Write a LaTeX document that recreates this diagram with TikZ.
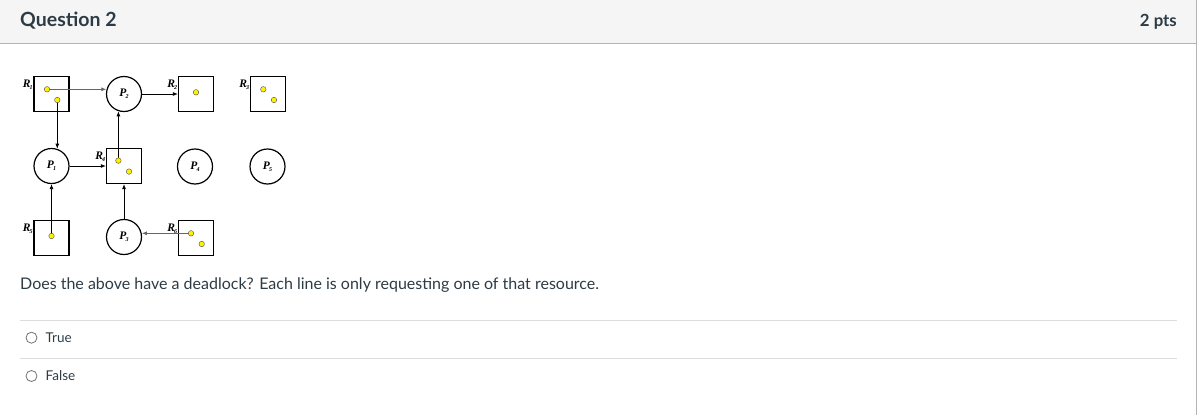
\documentclass[tikz,border=0pt]{standalone}
\usepackage{fontspec}
\setmainfont{Lato}
\newfontfamily\tmsfont{Liberation Serif}
\usetikzlibrary{arrows.meta,calc}
\definecolor{txt}{HTML}{2D3B45}
\definecolor{hdr}{HTML}{F5F5F5}
\definecolor{bord}{HTML}{B4B4B4}
\definecolor{sep}{HTML}{DDDDDD}
\definecolor{dotc}{HTML}{FFF200}
\newcommand{\lbl}[2]{{\tmsfont\bfseries\itshape\fontsize{11.5}{11.5}\selectfont #1\kern-0.8pt\raisebox{-2.2pt}{\fontsize{6}{6}\selectfont #2}}}
\begin{document}
\begin{tikzpicture}[x=1pt,y=-1pt,
  resbox/.style={draw=black,line width=1.3pt,minimum size=35pt,inner sep=0pt},
  proc/.style={circle,draw=black,line width=1.2pt,minimum size=35pt,inner sep=0pt},
  rdot/.style={circle,draw=black!70,line width=0.4pt,fill=dotc,minimum size=5.5pt,inner sep=0pt},
  rlbl/.style={anchor=north east,inner sep=0pt},
  edge/.style={draw=black,line width=0.8pt,-{Latex[length=5pt,width=4pt]}},
  gedge/.style={draw=black!60,line width=0.9pt,-{Latex[length=5pt,width=4pt]}},
  radio/.style={circle,draw=black!55,line width=0.8pt,minimum size=11pt,inner sep=0pt}
]
\useasboundingbox (0,0) rectangle (1198,415);
% header
\fill[hdr] (0,0) rectangle (1196.5,43.3);
\draw[bord,line width=1.2pt] (0,43.3) -- (1196.5,43.3);
\draw[bord,line width=1.2pt] (1196.8,0) -- (1196.8,415);
\node[anchor=base west,inner sep=0pt,text=txt,font=\bfseries\fontsize{19.5}{21}\selectfont] (q) at (20,26.5) {Question 2};
\node[anchor=base east,inner sep=0pt,text=txt,font=\bfseries\fontsize{16.8}{19}\selectfont] (pts) at (1177,26.5) {2 pts};

% resources
\node[resbox] (R1) at (51.5,94) {};
\node[resbox] (R2) at (196,94) {};
\node[resbox] (R3) at (268,94) {};
\node[resbox] (R4) at (124,166) {};
\node[resbox] (R5) at (51.5,238) {};
\node[resbox] (R6) at (196,238) {};
% processes
\node[proc] (P2) at (124,94) {\lbl{P}{2}};
\node[proc] (P1) at (51.5,166) {\lbl{P}{1}};
\node[proc] (P4) at (195,166.5) {\lbl{P}{4}};
\node[proc] (P5) at (267.5,166.5) {\lbl{P}{5}};
\node[proc] (P3) at (124,237) {\lbl{P}{3}};
% labels
\node[rlbl] (LR1) at ($(R1.north west)+(-0.5,4)$) {\lbl{R}{1}};
\node[rlbl] (LR2) at ($(R2.north west)+(-0.5,4)$) {\lbl{R}{2}};
\node[rlbl] (LR3) at ($(R3.north west)+(-0.5,4)$) {\lbl{R}{3}};
\node[rlbl] (LR4) at ($(R4.north west)+(-0.5,4)$) {\lbl{R}{4}};
\node[rlbl] (LR5) at ($(R5.north west)+(-0.5,4)$) {\lbl{R}{5}};
\node[rlbl] (LR6) at ($(R6.north west)+(-0.5,4)$) {\lbl{R}{6}};
% arrows (drawn before dots)
\coordinate (d1a) at ($(R1)+(-4.5,-4.7)$);
\coordinate (d1b) at ($(R1)+(5.8,6)$);
\coordinate (d2) at ($(R2)+(0,-1.7)$);
\coordinate (d3a) at ($(R3)+(-4.7,-4.7)$);
\coordinate (d3b) at ($(R3)+(6,6)$);
\coordinate (d4a) at ($(R4)+(-5.6,-5.4)$);
\coordinate (d4b) at ($(R4)+(5,5.6)$);
\coordinate (d5) at ($(R5)+(0,-2)$);
\coordinate (d6a) at ($(R6)+(-5,-4.7)$);
\coordinate (d6b) at ($(R6)+(5.7,6)$);
\draw[gedge] (d1a) -- ($(d1a -| P2.west)+(0.5,0)$);
\draw[edge] (d1b) -- ($(d1b |- P1.north)+(0,0.8)$);
\draw[edge] (P2) -- (R2);
\draw[edge] (P1) -- (R4);
\draw[edge] (d4a) -- ($(d4a |- P2.south)+(0,-0.8)$);
\draw[edge] (d5) -- (P1);
\draw[edge] (P3) -- (R4);
\draw[gedge] (d6a) -- ($(d6a -| P3.east)+(-0.3,0)$);
% dots
\foreach \d in {d1a,d1b,d2,d3a,d3b,d4a,d4b,d5,d6a,d6b}{\node[rdot] at (\d) {};}

% question text
\node[anchor=base west,inner sep=0pt,text=txt,font=\fontsize{16}{19}\selectfont] (qt) at (20,289) {Does the above have a deadlock? Each line is only requesting one of that resource.};
\draw[sep,line width=1pt] (20,320.7) -- (1177,320.7);
\draw[sep,line width=1pt] (20,358.3) -- (1177,358.3);
\node[radio] (rt) at (31.5,337.7) {};
\node[radio] (rf) at (31.5,376) {};
\node[anchor=base west,inner sep=0pt,text=txt,font=\fontsize{13.5}{16}\selectfont] (tt) at (45.5,342.3) {True};
\node[anchor=base west,inner sep=0pt,text=txt,font=\fontsize{13.5}{16}\selectfont] (ft) at (45.5,380.3) {False};
\end{tikzpicture}
\end{document}
